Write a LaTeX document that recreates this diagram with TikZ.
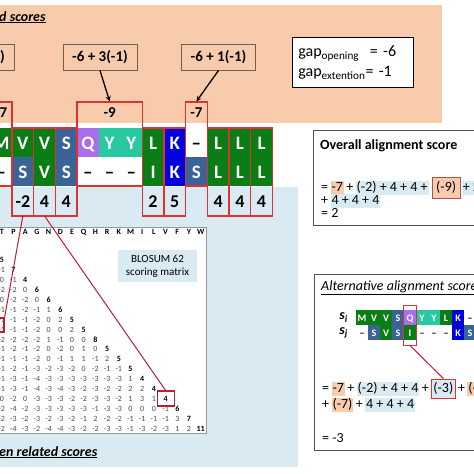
\documentclass[tikz,border=0pt]{standalone}
\usepackage{fontspec}
\setmainfont{Carlito}
\usepackage{tikz}
\usetikzlibrary{fit}
\usetikzlibrary{matrix}
\usetikzlibrary{positioning}
\definecolor{peach}{RGB}{248,203,173}
\definecolor{paleblue}{RGB}{218,234,242}
\definecolor{aagreen}{RGB}{10,125,20}
\definecolor{aasteel}{RGB}{58,100,150}
\definecolor{aaviolet}{RGB}{170,110,235}
\definecolor{aateal}{RGB}{40,200,160}
\definecolor{aablue}{RGB}{0,0,225}
\definecolor{boxred}{RGB}{222,50,50}
\definecolor{linkred}{RGB}{190,30,50}
\definecolor{boxbrown}{RGB}{170,85,75}
\definecolor{framebrown}{RGB}{115,95,80}
\definecolor{panelgray}{RGB}{80,80,80}
\definecolor{mauve}{RGB}{190,120,150}
\tikzset{redbox/.style={rectangle, draw=boxred, line width=1.3pt, inner sep=0pt}}
\tikzset{formbox/.style={rectangle, draw=framebrown, line width=1pt, minimum width=74pt, minimum height=26pt, font=\fontsize{15}{15}\selectfont\bfseries}}
\tikzset{tok/.style={inner sep=1pt, text height=9pt, text depth=2.5pt, font=\fontsize{14}{14}\selectfont}}
\tikzset{hilite/.style={tok, fill=paleblue}}
\tikzset{gaphl/.style={tok, fill=peach}}
\tikzset{panel/.style={draw=panelgray, line width=1pt, fill=white}}
\tikzset{link/.style={draw=linkred, line width=1pt}}
\tikzset{hlbox/.style={rectangle, draw=linkred, line width=1.1pt, inner sep=0pt}}
\tikzset{arr/.style={->, >=stealth, line width=1.3pt}}
\tikzset{gcell/.style={fill=aagreen}, bcell/.style={fill=aasteel}, vcell/.style={fill=aaviolet},
  tcell/.style={fill=aateal}, kcell/.style={fill=aablue}, dcell/.style={fill=white, text=black}}
\tikzset{dg/.style={text=black, font=\fontsize{8}{8}\selectfont\bfseries}}
\tikzset{seqgrid/.style = {
   matrix of nodes, nodes in empty cells,
   inner sep=0pt, outer sep=0pt,
   nodes={anchor=center, inner sep=0pt, outer sep=0pt, minimum width=21.7pt, minimum height=29pt,
     text height=13pt, text depth=0pt, text=white, font=\fontsize{19}{19}\selectfont\bfseries},
   row 1/.style={nodes={minimum height=21pt, text height=10pt, text=black, font=\fontsize{15}{15}\selectfont\bfseries}},
   row 4/.style={nodes={minimum height=30pt, text height=12pt, text=black, font=\fontsize{18}{18}\selectfont\bfseries}}
}}
\tikzset{minigrid/.style = {
   matrix of nodes,
   inner sep=0pt, outer sep=0pt,
   nodes={anchor=center, inner sep=0pt, outer sep=0pt, minimum width=12pt, minimum height=15pt,
     text height=7pt, text depth=0pt, text=white, font=\fontsize{10}{10}\selectfont\bfseries}
}}
\tikzset{blosum/.style = {
   matrix of nodes,
   draw=black!40, line width=0.8pt, fill=white,
   inner sep=0pt, outer sep=0pt,
   nodes={anchor=center, inner sep=0pt, minimum width=11.7pt, minimum height=9.9pt,
     text height=6pt, text depth=0pt, text=black!70, font=\fontsize{8}{8}\selectfont},
   row 1/.style={nodes={text=black, font=\fontsize{8}{8}\selectfont\bfseries}}
}}

\begin{document}
\begin{tikzpicture}[x=1pt, y=-1pt]

    \useasboundingbox (0,0) rectangle (474,474);
    \fill[peach] (0,5) rectangle (442,123);
    \fill[paleblue] (0,187) rectangle (298,467);

    \node[anchor=base west, inner sep=0pt, font=\fontsize{14}{14}\selectfont\bfseries\itshape] (gtitle) at (-1,21) {\underline{d scores}};
    \node[anchor=base west, inner sep=0pt, font=\fontsize{14}{14}\selectfont\bfseries\itshape] (stitle) at (-1,456) {\underline{en related scores}};

    \node[formbox] (f1) at (-23,57) {-6 + 1(-1)};
    \node[formbox] (f2) at (100,57) {-6 + 3(-1)};
    \node[formbox] (f3) at (218.5,57) {-6 + 1(-1)};

    \node[draw, fill=white, line width=0.8pt, anchor=north west, minimum width=121pt, minimum height=50pt,
      text width=109pt, inner xsep=6pt, align=left, font=\fontsize{16}{20}\selectfont] (gapinfo) at (292,37)
      {gap\textsubscript{opening}\ \ = -6\\gap\textsubscript{extention}= -1};

    \matrix[seqgrid, anchor=north west] (seq) at (-9.7,102) {
      -7 & & & & & -9 & & & & -7 & & & \\[5pt]
      |[gcell]| M & |[gcell]| V & |[gcell]| V & |[bcell]| S & |[vcell]| Q & |[tcell]| Y & |[tcell]| Y & |[gcell]| L & |[kcell]| K & |[dcell]| -- & |[gcell]| L & |[gcell]| L & |[gcell]| L \\
      |[dcell]| -- & |[bcell]| S & |[gcell]| V & |[bcell]| S & |[dcell]| -- & |[dcell]| -- & |[dcell]| -- & |[gcell]| I & |[kcell]| K & |[bcell]| S & |[gcell]| L & |[gcell]| L & |[gcell]| L \\
      & -2 & 4 & 4 & & & & 2 & 5 & & 4 & 4 & 4 \\
    };

    \node[redbox, fit=(seq-1-1)(seq-3-1)] (g1) {};
    \node[redbox, fit=(seq-1-5)(seq-3-7)] (g9) {};
    \node[redbox, fit=(seq-1-10)(seq-3-10)] (g7) {};

    \node[redbox, fit=(seq-2-2)(seq-4-2)] (s2) {};
    \node[redbox, fit=(seq-2-3)(seq-4-3)] (s3) {};
    \node[redbox, fit=(seq-2-4)(seq-4-4)] (s4) {};
    \node[redbox, fit=(seq-2-8)(seq-4-8)] (s8) {};
    \node[redbox, fit=(seq-2-9)(seq-4-9)] (s9) {};
    \node[redbox, fit=(seq-2-11)(seq-4-11)] (s11) {};
    \node[redbox, fit=(seq-2-12)(seq-4-12)] (s12) {};
    \node[redbox, fit=(seq-2-13)(seq-4-13)] (s13) {};

    \draw[arr] (f2.south) -- (g9.north);
    \draw[arr] (f3.south) -- (g7.north);

    \matrix[blosum, anchor=north west] (bm) at (-4.05,227) {
      T & P & A & G & N & D & E & Q & H & R & K & M & I & L & V & F & Y & W \\[18pt]
      |[dg]| 5 \\
      -1 & |[dg]| 7 \\
      0 & -1 & |[dg]| 4 \\
      -2 & -2 & 0 & |[dg]| 6 \\
      0 & -2 & -2 & 0 & |[dg]| 6 \\
      -1 & -1 & -2 & -1 & 1 & |[dg]| 6 \\
      -1 & -1 & -1 & -2 & 0 & 2 & |[dg]| 5 \\
      -1 & -1 & -1 & -2 & 0 & 0 & 2 & |[dg]| 5 \\
      -2 & -2 & -2 & -2 & 1 & -1 & 0 & 0 & |[dg]| 8 \\
      -1 & -2 & -1 & -2 & 0 & -2 & 0 & 1 & 0 & |[dg]| 5 \\
      -1 & -1 & -1 & -2 & 0 & -1 & 1 & 1 & -1 & 2 & |[dg]| 5 \\
      -1 & -2 & -1 & -3 & -2 & -3 & -2 & 0 & -2 & -1 & -1 & |[dg]| 5 \\
      -1 & -3 & -1 & -4 & -3 & -3 & -3 & -3 & -3 & -3 & -3 & 1 & |[dg]| 4 \\
      -1 & -3 & -1 & -4 & -3 & -4 & -3 & -2 & -3 & -2 & -2 & 2 & 2 & |[dg]| 4 \\
      0 & -2 & 0 & -3 & -3 & -3 & -2 & -2 & -3 & -3 & -2 & 1 & 3 & 1 & |[dg]| 4 \\
      -2 & -4 & -2 & -3 & -3 & -3 & -3 & -3 & -1 & -3 & -3 & 0 & 0 & 0 & -1 & |[dg]| 6 \\
      -2 & -3 & -2 & -3 & -2 & -3 & -2 & -1 & 2 & -2 & -2 & -1 & -1 & -1 & -1 & 3 & |[dg]| 7 \\
      -2 & -4 & -3 & -2 & -4 & -4 & -3 & -2 & -2 & -3 & -3 & -1 & -3 & -2 & -3 & 1 & 2 & |[dg]| 11 \\
    };

    \node[fill=paleblue, minimum width=79pt, minimum height=32pt, align=center, font=\fontsize{11}{13}\selectfont] (blab) at (157.5,266) {BLOSUM 62\\scoring matrix};

    \node[hlbox, minimum width=12pt, minimum height=14pt] (hq) at (-2,325) {};
    \node[hlbox, minimum width=17pt, minimum height=15pt] (hv) at (bm-16-15) {};
    \draw[link] (seq-4-2.south) -- (hq.north east);
    \draw[link] (seq-4-3.south) -- (hv.north);

    \draw[panel] (313,130) rectangle (490,225);
    \node[anchor=base west, inner sep=0pt, font=\fontsize{14}{14}\selectfont\bfseries] (otitle) at (320,149) {Overall alignment score};
    \node[tok, anchor=base west] (o1) at (320,191) {=};
    \node[gaphl, base right=1pt of o1] (o2) {-7};
    \node[tok, base right=1pt of o2] (o3) {+};
    \node[hilite, base right=1pt of o3] (o4) {(-2) + 4 + 4 +};
    \node[gaphl, draw=boxbrown, line width=1pt, inner xsep=4pt, inner ysep=4.5pt, base right=3pt of o4] (o5) {(-9)};
    \node[hilite, base right=1pt of o5] (o6) {+ 2};
    \node[hilite, draw=mauve, line width=1pt, minimum width=20pt, inner ysep=4.5pt, base right=3pt of o6] (o7) {};
    \node[tok, anchor=base west] (p1) at (320,204) {+};
    \node[hilite, base right=1pt of p1] (p2) {4 + 4 + 4};
    \node[tok, anchor=base west] (p3) at (320,217) {= 2};

    \draw[panel] (314,274) rectangle (490,450);
    \node[anchor=base west, inner sep=0pt, font=\fontsize{14}{14}\selectfont\itshape] (atitle) at (321,290) {\underline{Alternative alignment score}};

    \matrix[minigrid, anchor=north west] (mini) at (356,310) {
      |[gcell]| M & |[gcell]| V & |[gcell]| V & |[bcell]| S & |[vcell]| Q & |[tcell]| Y & |[tcell]| Y & |[gcell]| L & |[kcell]| K & |[dcell]| -- \\
      |[dcell]| -- & |[bcell]| S & |[gcell]| V & |[bcell]| S & |[gcell]| I & |[dcell]| -- & |[dcell]| -- & |[dcell]| -- & |[kcell]| K & |[bcell]| S \\
    };
    \node[inner sep=0pt, left=8pt of mini-1-1, font=\fontsize{14}{14}\selectfont\bfseries\itshape] (si) {s\textsubscript{i}};
    \node[inner sep=0pt, left=8pt of mini-2-1, font=\fontsize{14}{14}\selectfont\bfseries\itshape] (sj) {s\textsubscript{j}};
    \node[redbox, line width=1pt, inner xsep=0.5pt, inner ysep=5pt, fit=(mini-1-5)(mini-2-5)] (rq) {};

    \node[tok, anchor=base west] (a1) at (321,392) {=};
    \node[gaphl, base right=1pt of a1] (a2) {-7};
    \node[tok, base right=1pt of a2] (a3) {+};
    \node[hilite, base right=1pt of a3] (a4) {(-2) + 4 + 4};
    \node[tok, base right=1pt of a4] (a5) {+};
    \node[hilite, draw=boxred, line width=1pt, inner xsep=2pt, inner ysep=4pt, base right=1pt of a5] (a6) {(-3)};
    \node[tok, base right=1pt of a6] (a7) {+};
    \node[gaphl, base right=1pt of a7] (a8) {(-7)};
    \node[tok, anchor=base west] (b1) at (321,408) {+};
    \node[gaphl, base right=1pt of b1] (b2) {(-7)};
    \node[tok, base right=1pt of b2] (b3) {+};
    \node[hilite, base right=1pt of b3] (b4) {4 + 4 + 4};
    \node[tok, anchor=base west] (c1) at (321,442) {= -3};
    \draw[link] (rq.south) -- (a6.north);

\end{tikzpicture}
\end{document}
